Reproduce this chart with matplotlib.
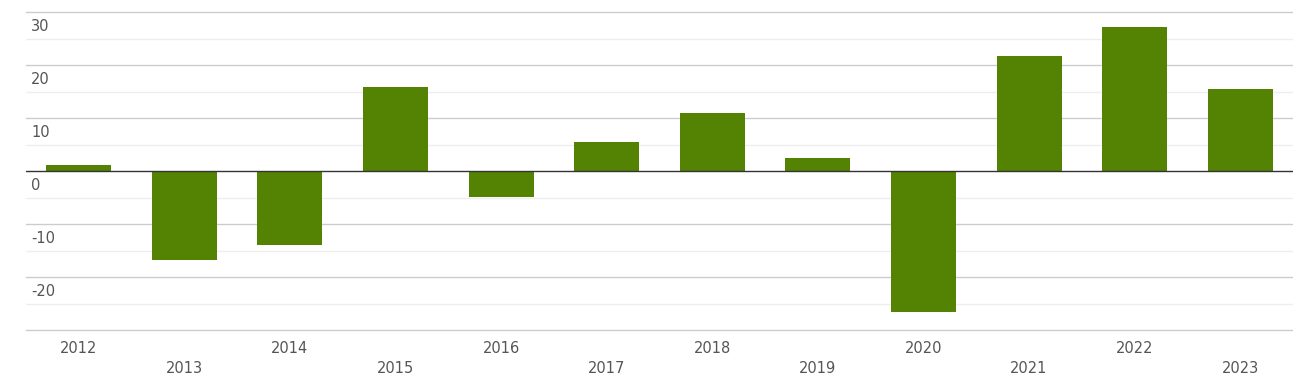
import matplotlib
matplotlib.use("Agg")
import matplotlib.pyplot as plt
import matplotlib.transforms as mtransforms

years = ["2012", "2013", "2014", "2015", "2016", "2017",
         "2018", "2019", "2020", "2021", "2022", "2023"]
values = [1.1, -16.8, -14.0, 15.8, -4.9, 5.5,
          10.9, 2.5, -26.6, 21.7, 27.2, 15.5]
major_ticks = [-30, -20, -10, 0, 10, 20, 30]
minor_ticks = [-25, -15, -5, 5, 15, 25]

fig = plt.figure(figsize=(12.93, 3.84), dpi=100)
ax = fig.add_axes([26 / 1293, 54 / 384, 1 - 26 / 1293, 318 / 384])

x = list(range(len(years)))
ax.bar(x, values, width=0.615, color="#548203", zorder=3)

ax.set_xlim(-0.5, len(years) - 0.5)
ax.set_ylim(-30, 30)

for v in minor_ticks:
    ax.axhline(v, color="#eeeeee", lw=1, zorder=1)
for v in major_ticks:
    if v == 0:
        ax.axhline(v, color="#333333", lw=1, zorder=4)
    else:
        ax.axhline(v, color="#cccccc", lw=1, zorder=1, clip_on=False)

# y labels sit inside the plot, just under their gridline
off = mtransforms.ScaledTranslation(5 / 100, -7 / 100, fig.dpi_scale_trans)
for v in major_ticks:
    if v == -30:
        continue
    ax.text(0, v, str(v), transform=ax.get_yaxis_transform() + off,
            ha="left", va="top", fontsize=10.5, color="#555555")

# x labels alternate between two rows
for i, yr in enumerate(years):
    dy = -11 if i % 2 == 0 else -31
    toff = mtransforms.ScaledTranslation(0, dy / 100, fig.dpi_scale_trans)
    ax.text(i, 0, yr, transform=ax.get_xaxis_transform() + toff,
            ha="center", va="top", fontsize=10.5, color="#555555")

ax.set_xticks([])
ax.set_yticks([])
for s in ax.spines.values():
    s.set_visible(False)

fig.savefig("out.png", dpi=100)
